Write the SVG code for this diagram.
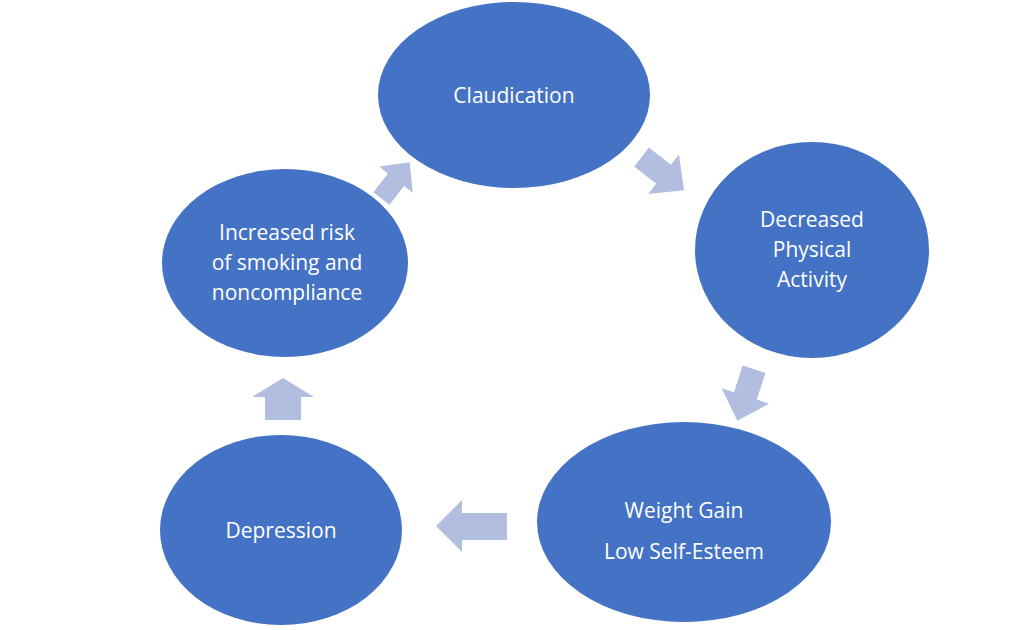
<svg xmlns="http://www.w3.org/2000/svg" width="1024" height="630" viewBox="0 0 1024 630">
<style>
.n{fill:#4472C4}
.a{fill:#B1BEE0}
text{font-family:"Open Sans","Liberation Sans",sans-serif;font-size:21px;fill:#fff;text-anchor:middle}
</style>
<defs><polygon id="arr" points="28,0 2,25 2,12 -26,12 -26,-12 2,-12 2,-25"/></defs>
<rect width="1024" height="630" fill="#fff"/>
<g id="connectors">
<use href="#arr" class="a" transform="translate(662,173) rotate(38)"/>
<use href="#arr" class="a" transform="translate(746,394) rotate(108)"/>
<polygon class="a" points="436,526 462,500 462,513 507,513 507,540 462,540 462,552"/>
<polygon class="a" points="283,378 314,397 301,397 301,420 265,420 265,397 252,397"/>
<use href="#arr" class="a" transform="translate(395,181) rotate(-52) scale(0.85)"/>
</g>
<g id="claudication"><ellipse class="n" cx="514" cy="95" rx="136" ry="93"/><text x="514" y="103">Claudication</text></g>
<g id="decreased"><ellipse class="n" cx="812" cy="250" rx="117" ry="108"/><text x="812" y="227">Decreased</text><text x="812" y="257">Physical</text><text x="812" y="287">Activity</text></g>
<g id="weight"><ellipse class="n" cx="684" cy="522" rx="147" ry="100"/><text x="684" y="518">Weight Gain</text><text x="684" y="559">Low Self-Esteem</text></g>
<g id="depression"><ellipse class="n" cx="281" cy="530" rx="121" ry="95"/><text x="281" y="538">Depression</text></g>
<g id="increased"><ellipse class="n" cx="285" cy="263" rx="123" ry="94"/><text x="287" y="240">Increased risk</text><text x="287" y="270">of smoking and</text><text x="287" y="300">noncompliance</text></g>
</svg>
